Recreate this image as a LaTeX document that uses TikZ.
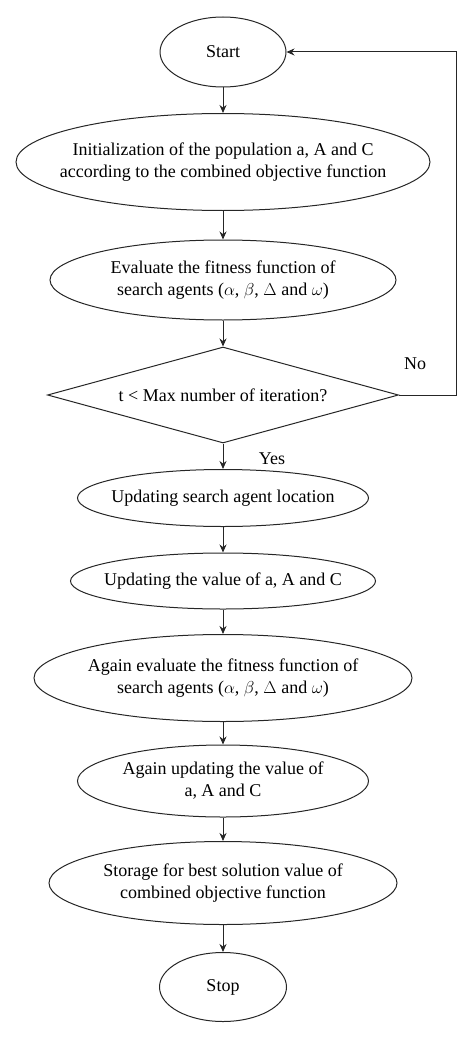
\documentclass[tikz,border=0pt]{standalone}
\usepackage{fontspec}
\setmainfont{Liberation Serif}
\usetikzlibrary{arrows.meta,shapes.geometric}

\begin{document}
\begin{tikzpicture}[x=1pt,y=-1pt,
 oval/.style={draw=black!85,ellipse,inner sep=-30pt,align=center,line width=1pt,font=\fontsize{18}{22}\selectfont},
 flow/.style={draw=black!85,-{Stealth[length=8pt,width=7pt]},line width=1pt}]
\useasboundingbox (0,0) rectangle (474,1038);
\node[oval,minimum width=126,minimum height=70] (start) at (223,52) {Start};
\node[oval,minimum width=414,minimum height=97] (init) at (223,162)
 {Initialization of the population a, A and C\\according to the combined objective function};
\node[oval,minimum width=346,minimum height=80] (eval) at (223,280)
 {Evaluate the fitness function of\\search agents ($\alpha$, $\beta$, $\Delta$ and $\omega$)};
\node[draw=black!85,diamond,aspect=3.66,inner sep=0pt,line width=1pt,minimum width=351,minimum height=96,
 font=\fontsize{18}{22}\selectfont] (cond) at (223,395) {t < Max number of iteration?};
\node[oval,minimum width=291,minimum height=57] (move) at (223,498) {Updating search agent location};
\node[oval,minimum width=305,minimum height=56] (upd) at (223,581) {Updating the value of a, A and C};
\node[oval,minimum width=378,minimum height=87] (reeval) at (223,678)
 {Again evaluate the fitness function of\\search agents ($\alpha$, $\beta$, $\Delta$ and $\omega$)};
\node[oval,minimum width=291,minimum height=72] (reupd) at (223,781)
 {Again updating the value of\\a, A and C};
\node[oval,minimum width=348,minimum height=83] (store) at (223,883)
 {Storage for best solution value of\\combined objective function};
\node[oval,minimum width=127,minimum height=69] (stop) at (223,987) {Stop};

\foreach \a/\b in {start/init,init/eval,eval/cond,cond/move,move/upd,upd/reeval,reeval/reupd,reupd/store,store/stop}
 \draw[flow] (\a) -- (\b);

% loop back when the test fails
\coordinate (turnA) at (456,395);
\coordinate (turnB) at (456,52);
\draw[flow] (cond.east) -- (turnA) -- (turnB) -- (start.east);
\node[font=\fontsize{18}{22}\selectfont] (noLbl) at (415,364) {No};
\node[font=\fontsize{18}{22}\selectfont] (yesLbl) at (272,459) {Yes};
\end{tikzpicture}
\end{document}
